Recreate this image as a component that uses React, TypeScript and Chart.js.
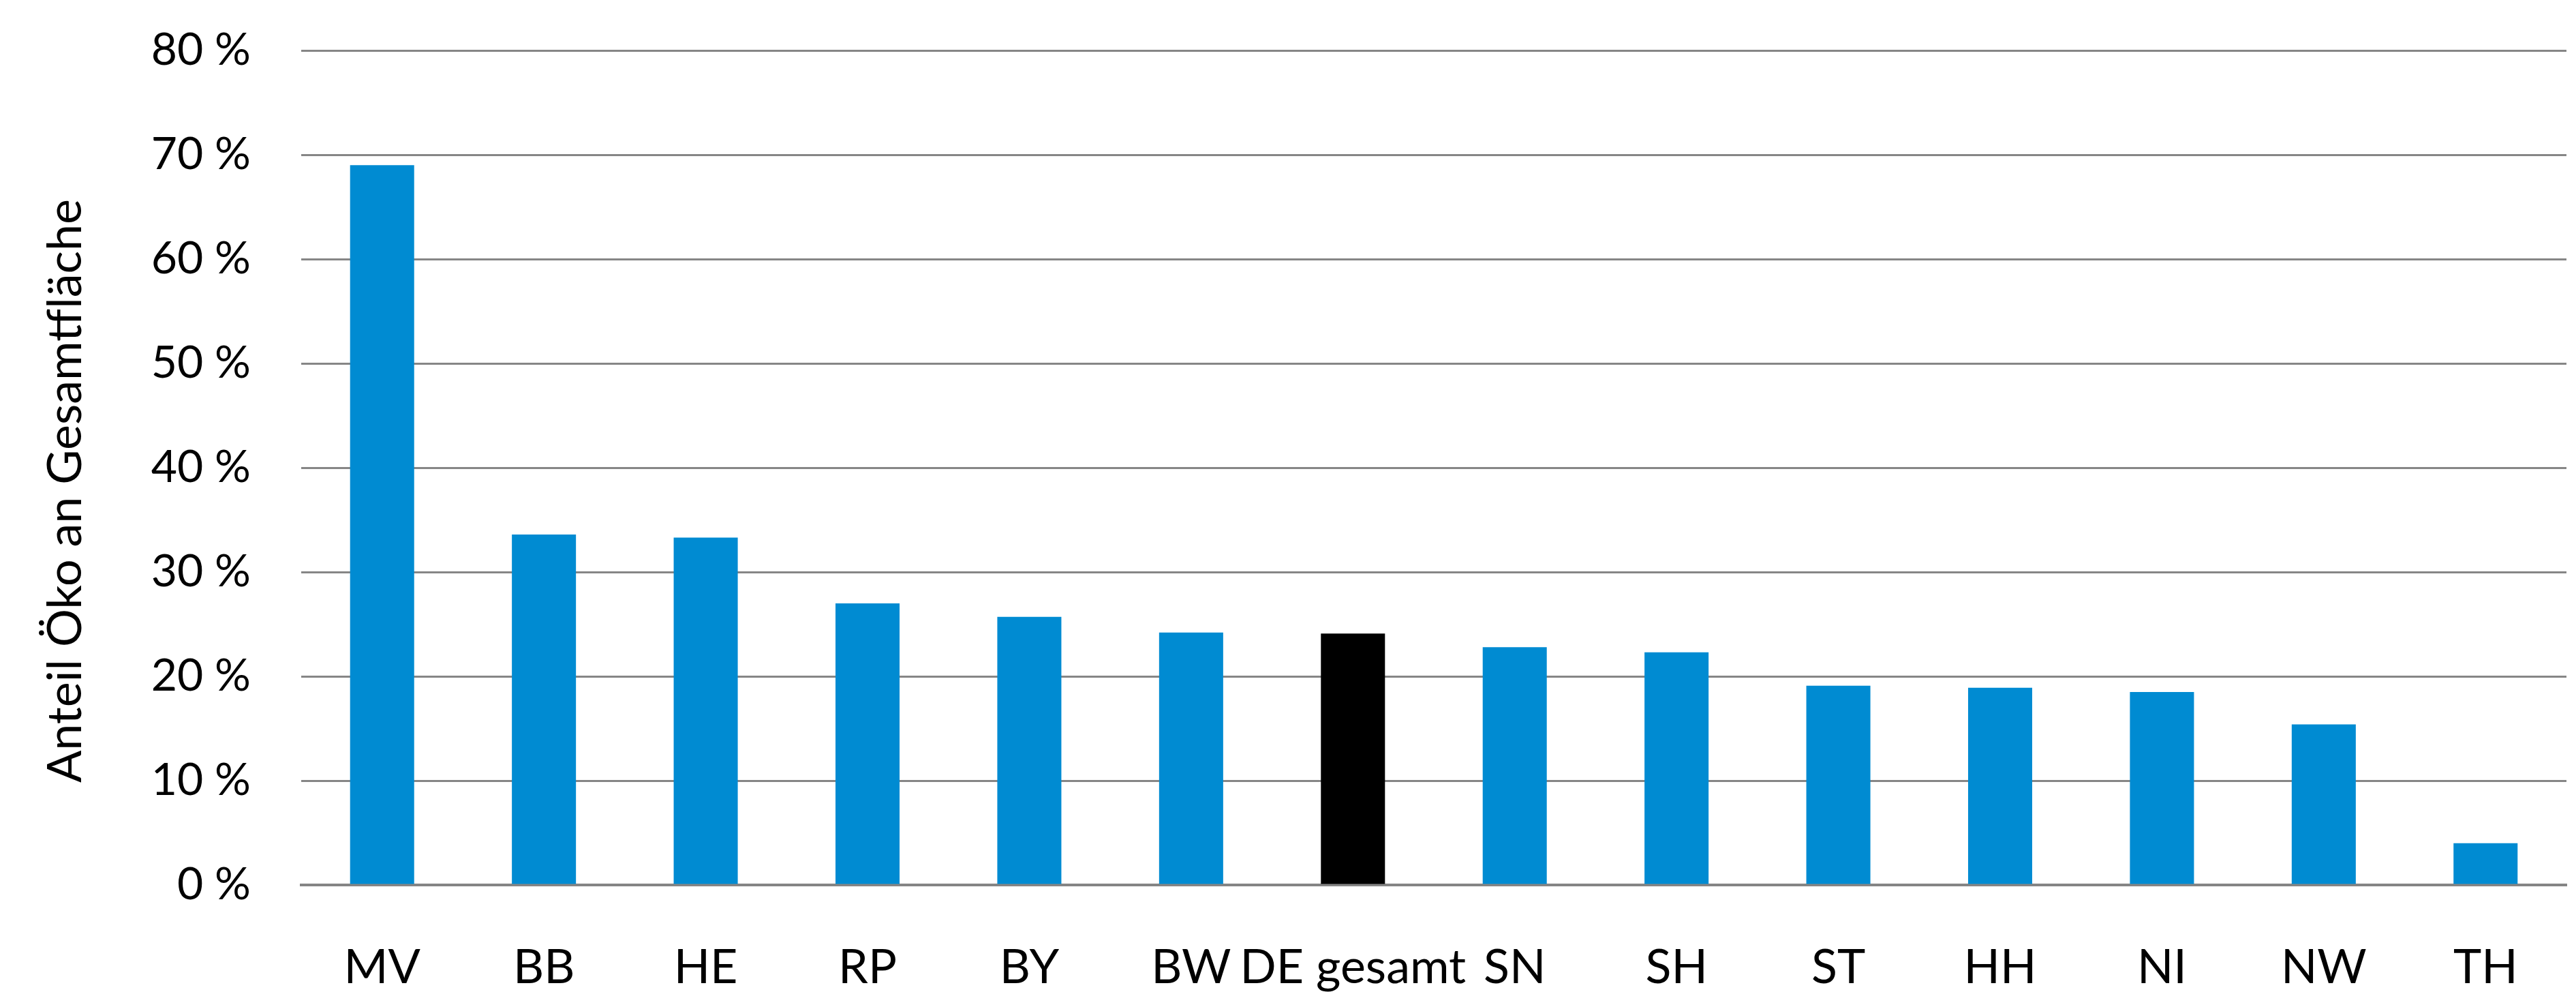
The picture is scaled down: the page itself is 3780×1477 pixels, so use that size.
import { Chart, registerables } from 'chart.js';
import { useEffect, useRef } from 'react';
Chart.register(...registerables);

const states = ['MV', 'BB', 'HE', 'RP', 'BY', 'BW', 'DE gesamt', 'SN', 'SH', 'ST', 'HH', 'NI', 'NW', 'TH'];
const shares = [69.0, 33.6, 33.3, 27.0, 25.7, 24.2, 24.1, 22.8, 22.3, 19.1, 18.9, 18.5, 15.4, 4.0];
const barColors = ['#008bd2', '#008bd2', '#008bd2', '#008bd2', '#008bd2', '#008bd2', '#000000',
  '#008bd2', '#008bd2', '#008bd2', '#008bd2', '#008bd2', '#008bd2', '#008bd2'];
const yTicks = [0, 10, 20, 30, 40, 50, 60, 70, 80];
const yTitle = 'Anteil Öko an Gesamtfläche';

const W = 3780;
const H = 1477;
const FONT = 'Lato, Carlito, "Open Sans", sans-serif';

// the axis title in the original sits a bit below the plot's middle
function shiftTitle(s: any) {
  if (s._titleShifted) return;
  s._titleShifted = true;
  const orig = s.drawTitle.bind(s);
  s.drawTitle = () => {
    s.ctx.save();
    s.ctx.translate(0, 34);
    orig();
    s.ctx.restore();
  };
}

export default function App() {
  const ref = useRef<HTMLCanvasElement | null>(null);
  useEffect(() => {
    document.body.style.margin = '0';
    if (!ref.current) return;
    const ctx = ref.current.getContext('2d')!;
    const c = new Chart(ctx, {
      type: 'bar',
      data: {
        labels: states,
        datasets: [{
          label: yTitle,
          data: shares,
          backgroundColor: barColors,
          borderWidth: 0,
          categoryPercentage: 1,
          barPercentage: 0.396,
        }],
      },
      options: {
        animation: false,
        responsive: false,
        devicePixelRatio: 1,
        layout: { padding: { left: 0, right: 14, top: 74, bottom: 0 } },
        plugins: { legend: { display: false }, tooltip: { enabled: false } },
        scales: {
          x: {
            grid: { display: false, drawTicks: false },
            border: { display: true, color: '#858585', width: 4 },
            ticks: { color: '#000', padding: 79, font: { family: FONT, size: 70 }, maxRotation: 0, autoSkip: false },
            afterFit: (s: any) => { s.height = H - 1298; s.paddingLeft = 0; s.paddingRight = 0; },
          },
          y: {
            min: 0,
            max: 80,
            afterBuildTicks: (s: any) => { s.ticks = yTicks.map((v) => ({ value: v })); },
            grid: { color: '#868686', lineWidth: 3, drawTicks: false },
            border: { display: false },
            ticks: {
              color: '#000',
              padding: 74,
              font: { family: FONT, size: 66 },
              callback: (v: any) => `${v} %`,
            },
            title: {
              display: true,
              text: yTitle,
              color: '#000',
              font: { family: FONT, size: 70 },
              padding: { top: 54, bottom: 0 },
            },
            afterFit: (s: any) => {
              s.width = 442;
              s.paddingTop = 0;
              s.paddingBottom = 0;
              shiftTitle(s);
            },
          },
        },
      },
    });
    return () => c.destroy();
  }, []);
  return (
    <div style={{ width: W, height: H, background: '#fff' }}>
      <canvas ref={ref} width={W} height={H} style={{ display: 'block' }} />
    </div>
  );
}
